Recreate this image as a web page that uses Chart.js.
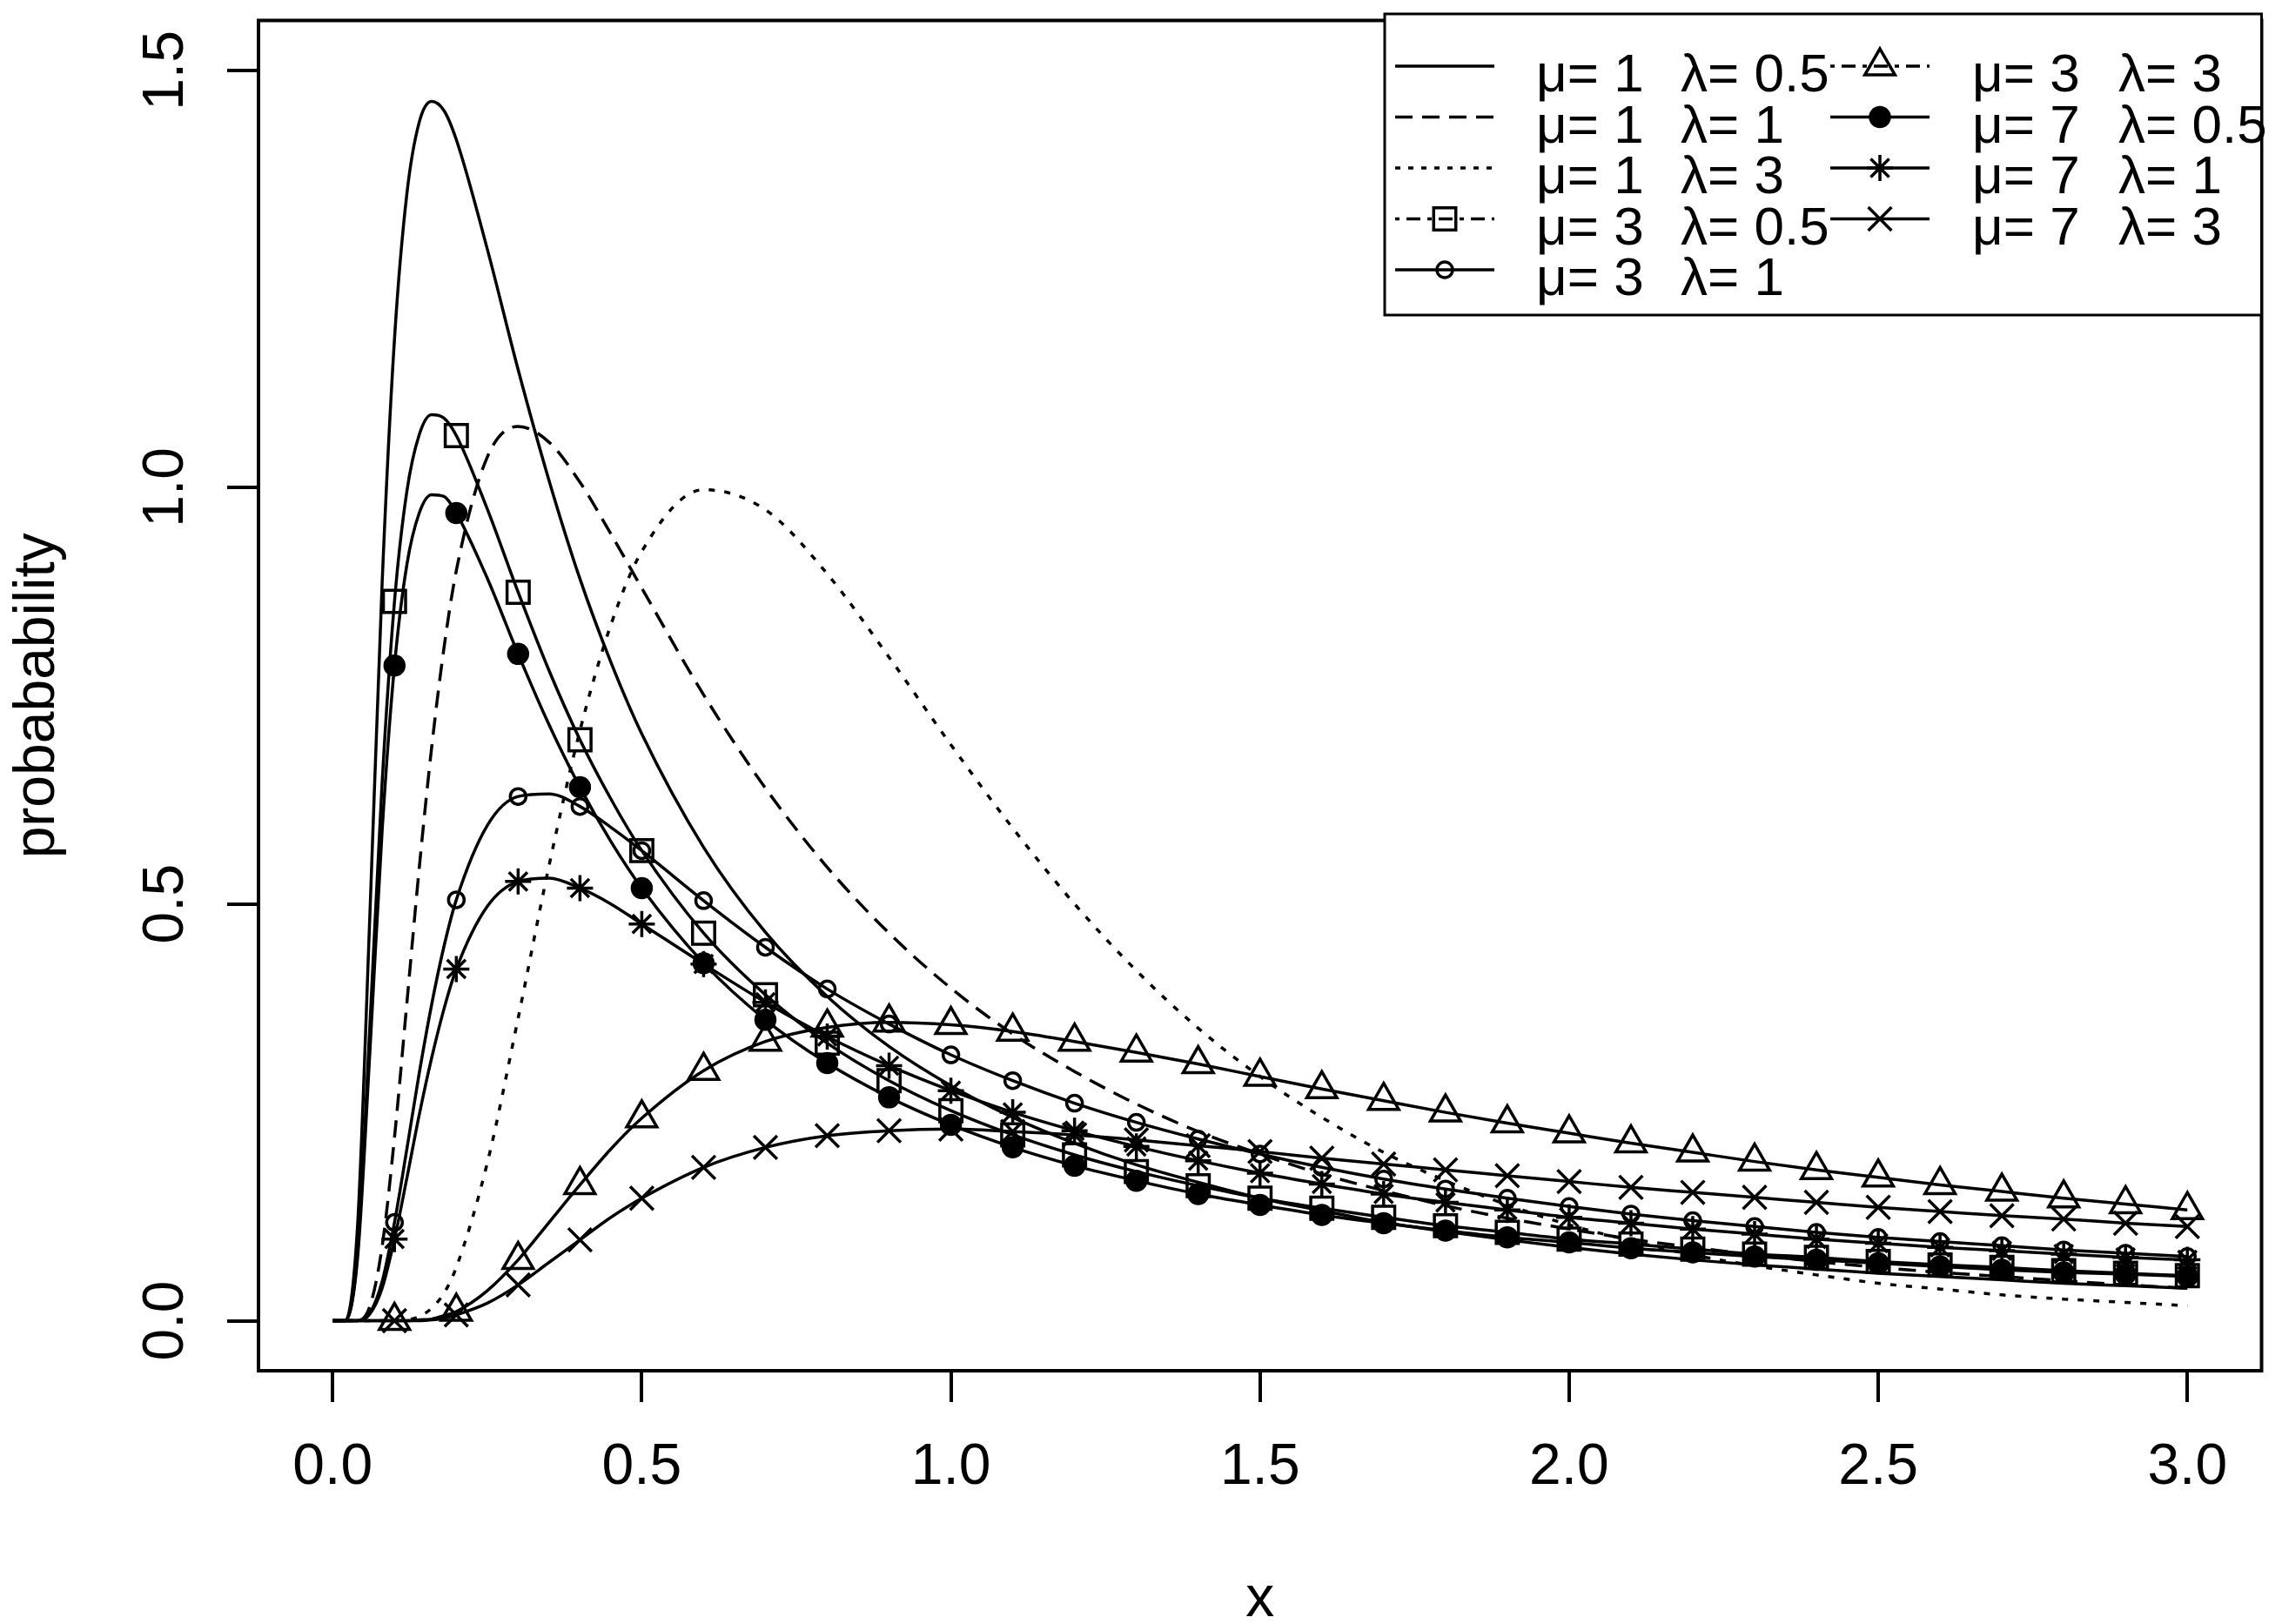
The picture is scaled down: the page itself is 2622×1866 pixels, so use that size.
<!DOCTYPE html>
<html>
<head>
<meta charset="utf-8">
<title>probabability vs x</title>
<script src="https://cdn.jsdelivr.net/npm/chart.js@4.4.1/dist/chart.umd.min.js"></script>
<style>
  html, body { margin: 0; padding: 0; background: #fff; }
  canvas { display: block; }
</style>
</head>
<body>
<canvas id="myChart" width="2622" height="1866"></canvas>
<script>
// -------------------
// DATA

// x grid, finer near the sharp peaks on the left
const xs = [0, 0.02, 0.04, 0.06, 0.08, 0.1, 0.12, 0.14, 0.16, 0.18, 0.2,
  0.25, 0.3, 0.35, 0.4, 0.45, 0.5,
  0.6, 0.7, 0.8, 0.9, 1.0, 1.1, 1.2, 1.3, 1.4, 1.5, 1.6, 1.7, 1.8, 1.9,
  2.0, 2.1, 2.2, 2.3, 2.4, 2.5, 2.6, 2.7, 2.8, 2.9, 3.0];

// mu = 1
const mu1Lam05 = [0, 0, 0.111, 0.483, 0.885, 1.178, 1.352, 1.438, 1.463, 1.452, 1.417,
  1.286, 1.141, 1.008, 0.890, 0.790, 0.704,
  0.568, 0.466, 0.389, 0.329, 0.282, 0.244, 0.213, 0.187, 0.166, 0.147, 0.132, 0.118, 0.107, 0.097,
  0.088, 0.080, 0.073, 0.067, 0.062, 0.057, 0.053, 0.049, 0.045, 0.042, 0.039];
const mu1Lam1 = [0, 0, 0, 0.017, 0.089, 0.220, 0.381, 0.543, 0.687, 0.807, 0.900,
  1.036, 1.073, 1.054, 1.006, 0.944, 0.879,
  0.751, 0.639, 0.544, 0.465, 0.399, 0.344, 0.299, 0.260, 0.227, 0.200, 0.176, 0.156, 0.138, 0.123,
  0.110, 0.098, 0.088, 0.079, 0.071, 0.064, 0.058, 0.053, 0.048, 0.043, 0.039];
const mu1Lam3 = [0, 0, 0, 0, 0, 0, 0.001, 0.005, 0.015, 0.033, 0.064,
  0.189, 0.363, 0.546, 0.708, 0.835, 0.923,
  0.997, 0.973, 0.896, 0.796, 0.691, 0.591, 0.500, 0.420, 0.351, 0.293, 0.244, 0.202, 0.168, 0.139,
  0.115, 0.096, 0.079, 0.066, 0.055, 0.045, 0.038, 0.031, 0.026, 0.022, 0.018];

// mu = 3
const mu3Lam05 = [0, 0, 0.080, 0.351, 0.646, 0.863, 0.995, 1.063, 1.087, 1.083, 1.062,
  0.974, 0.874, 0.780, 0.697, 0.626, 0.564,
  0.465, 0.391, 0.333, 0.288, 0.252, 0.223, 0.199, 0.179, 0.162, 0.147, 0.135, 0.124, 0.114, 0.106,
  0.098, 0.092, 0.086, 0.080, 0.076, 0.071, 0.067, 0.064, 0.060, 0.057, 0.054];
const mu3Lam1 = [0, 0, 0, 0.009, 0.047, 0.118, 0.206, 0.297, 0.379, 0.449, 0.505,
  0.594, 0.629, 0.632, 0.617, 0.592, 0.564,
  0.504, 0.448, 0.398, 0.356, 0.319, 0.288, 0.261, 0.238, 0.218, 0.200, 0.184, 0.170, 0.158, 0.147,
  0.137, 0.128, 0.120, 0.113, 0.106, 0.100, 0.095, 0.090, 0.085, 0.081, 0.077];
const mu3Lam3 = [0, 0, 0, 0, 0, 0, 0, 0.001, 0.002, 0.006, 0.011,
  0.036, 0.073, 0.118, 0.163, 0.206, 0.243,
  0.300, 0.335, 0.352, 0.358, 0.355, 0.347, 0.335, 0.322, 0.308, 0.293, 0.278, 0.264, 0.250, 0.237,
  0.225, 0.213, 0.202, 0.191, 0.181, 0.172, 0.163, 0.155, 0.147, 0.140, 0.133];

// mu = 7
const mu7Lam05 = [0, 0, 0.073, 0.320, 0.588, 0.786, 0.907, 0.969, 0.991, 0.989, 0.969,
  0.891, 0.800, 0.715, 0.640, 0.575, 0.519,
  0.429, 0.361, 0.309, 0.268, 0.235, 0.208, 0.186, 0.168, 0.152, 0.139, 0.127, 0.117, 0.108, 0.100,
  0.094, 0.087, 0.082, 0.077, 0.073, 0.069, 0.065, 0.061, 0.058, 0.056, 0.053];
const mu7Lam1 = [0, 0, 0, 0.008, 0.039, 0.098, 0.171, 0.247, 0.315, 0.374, 0.422,
  0.497, 0.527, 0.531, 0.519, 0.500, 0.476,
  0.428, 0.382, 0.341, 0.306, 0.276, 0.250, 0.228, 0.209, 0.192, 0.177, 0.164, 0.152, 0.142, 0.133,
  0.124, 0.117, 0.110, 0.104, 0.098, 0.093, 0.088, 0.084, 0.080, 0.076, 0.073];
const mu7Lam3 = [0, 0, 0, 0, 0, 0, 0, 0, 0.001, 0.003, 0.007,
  0.021, 0.043, 0.070, 0.097, 0.124, 0.147,
  0.184, 0.208, 0.222, 0.228, 0.230, 0.227, 0.223, 0.217, 0.210, 0.203, 0.195, 0.188, 0.181, 0.174,
  0.167, 0.160, 0.154, 0.148, 0.142, 0.136, 0.131, 0.126, 0.122, 0.117, 0.113];

const muValues = [1, 1, 1, 3, 3, 3, 7, 7, 7];
const lambdaValues = ["0.5", "1", "3", "0.5", "1", "3", "0.5", "1", "3"];
const seriesValues = [mu1Lam05, mu1Lam1, mu1Lam3, mu3Lam05, mu3Lam1, mu3Lam3, mu7Lam05, mu7Lam1, mu7Lam3];

const xTicks = [0, 0.5, 1, 1.5, 2, 2.5, 3];
const xTickLabels = ["0.0", "0.5", "1.0", "1.5", "2.0", "2.5", "3.0"];
const yTicks = [0, 0.5, 1, 1.5];
const yTickLabels = ["0.0", "0.5", "1.0", "1.5"];

// -------------------
// STYLES (R base graphics look)

const FONT = '"Liberation Sans", Arial, Helvetica, sans-serif';
const AXIS_FONT = "66px " + FONT;
const LEGEND_FONT = "62px " + FONT;
const INK = "#000";
const LINE_W = 3.5;

const DOTDASH = [5, 8, 16, 8];
const seriesStyles = [
  { dash: [], legendDash: [], marker: null },
  { dash: [20, 11], legendDash: [20, 11], marker: null },
  { dash: [7, 11], legendDash: [6, 9], marker: null },
  { dash: [], legendDash: DOTDASH, marker: "rect", radius: 18, filled: false },
  { dash: [], legendDash: [], marker: "circle", radius: 9, filled: false },
  { dash: [], legendDash: DOTDASH, marker: "triangle", radius: 20, filled: false },
  { dash: [], legendDash: [], marker: "circle", radius: 11, filled: true },
  { dash: [], legendDash: [], marker: "star", radius: 15, filled: false },
  { dash: [], legendDash: [], marker: "crossRot", radius: 19, filled: false },
];

// markers only at x = 0.1, 0.2, ... 3.0
const onTenth = x => x > 0.05 && Math.abs(x * 10 - Math.round(x * 10)) < 1e-6;

const datasets = seriesValues.map((ys, i) => {
  const st = seriesStyles[i];
  return {
    label: "μ= " + muValues[i] + "   λ= " + lambdaValues[i],
    data: xs.map((x, k) => ({ x: x, y: ys[k] })),
    borderColor: INK,
    borderWidth: LINE_W,
    borderDash: st.dash,
    cubicInterpolationMode: "monotone",
    fill: false,
    pointStyle: st.marker || "circle",
    pointRadius: ctx => (st.marker && ctx.raw && onTenth(ctx.raw.x) ? st.radius : 0),
    pointHoverRadius: 0,
    pointBorderWidth: LINE_W,
    pointBorderColor: INK,
    pointBackgroundColor: st.filled ? INK : "rgba(0,0,0,0)",
  };
});

// -------------------
// BOX, AXIS TEXT AND LEGEND

const rBasePlugin = {
  id: "rBase",
  afterDraw(chart) {
    const ctx = chart.ctx;
    const area = chart.chartArea;
    const xScale = chart.scales.x;
    const yScale = chart.scales.y;
    ctx.save();
    ctx.strokeStyle = INK;
    ctx.fillStyle = INK;
    ctx.setLineDash([]);

    // plot box
    ctx.lineWidth = 4;
    ctx.strokeRect(area.left, area.top, area.right - area.left, area.bottom - area.top);

    // x tick labels
    ctx.font = AXIS_FONT;
    ctx.textAlign = "center";
    ctx.textBaseline = "alphabetic";
    xTicks.forEach((v, i) => {
      ctx.fillText(xTickLabels[i], xScale.getPixelForValue(v), 1705);
    });

    // y tick labels, rotated like R (las = 0)
    yTicks.forEach((v, i) => {
      ctx.save();
      ctx.translate(210, yScale.getPixelForValue(v));
      ctx.rotate(-Math.PI / 2);
      ctx.fillText(yTickLabels[i], 0, 0);
      ctx.restore();
    });

    // axis titles
    ctx.fillText("x", (area.left + area.right) / 2, 1857);
    ctx.save();
    ctx.translate(62, (area.top + area.bottom) / 2);
    ctx.rotate(-Math.PI / 2);
    ctx.fillText("probabability", 0, 0);
    ctx.restore();

    // legend
    const box = { left: 1591, top: 16, right: area.right, bottom: 362 };
    ctx.fillStyle = "#fff";
    ctx.fillRect(box.left, box.top, box.right - box.left, box.bottom - box.top);
    ctx.fillStyle = INK;
    ctx.lineWidth = 3;
    ctx.strokeRect(box.left, box.top, box.right - box.left, box.bottom - box.top);

    const rowY = [76, 134.5, 193, 251.5, 310];
    const cols = [
      { lineFrom: 1603, lineTo: 1717, mu: 1765, lam: 1931 },
      { lineFrom: 2103, lineTo: 2217, mu: 2266, lam: 2434 },
    ];
    ctx.font = LEGEND_FONT;
    ctx.textAlign = "left";
    seriesStyles.forEach((st, i) => {
      const col = cols[i < 5 ? 0 : 1];
      const y = rowY[i < 5 ? i : i - 5];
      ctx.strokeStyle = INK;
      ctx.lineWidth = LINE_W;
      ctx.setLineDash(st.legendDash);
      ctx.beginPath();
      ctx.moveTo(col.lineFrom, y);
      ctx.lineTo(col.lineTo, y);
      ctx.stroke();
      ctx.setLineDash([]);
      if (st.marker) {
        ctx.fillStyle = st.filled ? INK : "rgba(0,0,0,0)";
        Chart.helpers.drawPoint(ctx, {
          pointStyle: st.marker, radius: st.radius, rotation: 0, borderWidth: LINE_W,
        }, (col.lineFrom + col.lineTo) / 2, y);
      }
      ctx.fillStyle = INK;
      ctx.fillText("μ= " + muValues[i], col.mu, y + 29);
      ctx.fillText("λ= " + lambdaValues[i], col.lam, y + 29);
    });
    ctx.restore();
  },
};

// -------------------
// CHART.JS

const canvasHTML = document.getElementById("myChart");
const myChart = new Chart(canvasHTML, {
  type: "line",
  data: { datasets: datasets },
  options: {
    responsive: false,
    devicePixelRatio: 1,
    animation: false,
    events: [],
    layout: { padding: { top: 17, right: 10, left: 0, bottom: 0 } },
    scales: {
      x: {
        type: "linear",
        min: -0.12,
        max: 3.12,
        afterBuildTicks: scale => { scale.ticks = xTicks.map(v => ({ value: v })); },
        afterFit: scale => { scale.height = 291; },
        ticks: { display: false },
        border: { display: false },
        grid: { drawOnChartArea: false, drawTicks: true, tickLength: 36, color: INK, lineWidth: 4 },
      },
      y: {
        type: "linear",
        min: -0.06,
        max: 1.56,
        afterBuildTicks: scale => { scale.ticks = yTicks.map(v => ({ value: v })); },
        afterFit: scale => { scale.width = 297; },
        ticks: { display: false },
        border: { display: false },
        grid: { drawOnChartArea: false, drawTicks: true, tickLength: 36, color: INK, lineWidth: 4 },
      },
    },
    plugins: {
      legend: { display: false },
      tooltip: { enabled: false },
    },
  },
  plugins: [rBasePlugin],
});
</script>
</body>
</html>
